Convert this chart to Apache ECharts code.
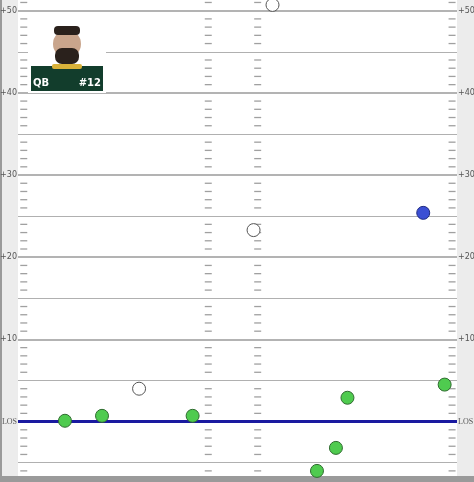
<!DOCTYPE html>
<html><head><meta charset="utf-8">
<script src="https://cdn.jsdelivr.net/npm/echarts@6/dist/echarts.min.js"></script>
<style>html,body{margin:0;padding:0;background:#fff}#c{width:474px;height:482px}</style>
</head><body><div id="c"></div>
<script>
// pass locations: [x across field (yd), yards past LOS]
const complete = [[5.7,0.1],[10.2,0.7],[21.2,0.7],[51.8,4.5],[40.0,2.9],[38.6,-3.2],[36.3,-6.0]];
const incomplete = [[14.7,4.0],[28.6,23.3],[30.9,50.7]];
const touchdown = [[49.2,25.4]];
const yardLines = [-5,5,10,15,20,25,30,35,40,45,50];
const labeledLines = [10,20,30,40,50];
const hashCols = [0.7,23.1,29.1,52.7];

const hashes = [];
for (let y=-6; y<=51; y++) { if (y%5!==0) hashCols.forEach(x=>hashes.push([x,y])); }

const ch = echarts.init(document.getElementById('c'));
const lineItems = yardLines.map(v=>({yAxis:v, lineStyle:{color: v%10===0?'#9a9a9a':'#b0b0b0', width: v%10===0?1.5:1}, label:{show: labeledLines.includes(v), formatter: '+'+v}}));
const lineItemsR = labeledLines.map(v=>({yAxis:v, label:{formatter:'+'+v}}));
const Z = {z:100, zlevel:1};
ch.setOption({
  animation:false,
  grid:{left:18,right:17,top:0,bottom:7},
  xAxis:{type:'value',min:0,max:53.3,show:false},
  yAxis:{type:'value',min:-6.5,max:51.3,show:false},
  graphic:[
    {type:'rect',z:-10,shape:{x:0,y:0,width:18,height:482},style:{fill:'#ececec'}},
    {type:'rect',z:-9,shape:{x:0,y:0,width:2,height:482},style:{fill:'#9a9a9a'}},
    {type:'rect',z:-10,shape:{x:457,y:0,width:17,height:482},style:{fill:'#ececec'}},
    {type:'rect',z:-9,shape:{x:0,y:476,width:474,height:6},style:{fill:'#9a9a9a'}},
    Object.assign({type:'rect',shape:{x:28,y:20,width:78,height:73},style:{fill:'#fff'}},Z),
    Object.assign({type:'rect',shape:{x:31,y:66,width:72,height:25},style:{fill:'#123d2c'}},Z),
    Object.assign({type:'rect',shape:{x:52,y:64,width:30,height:5,r:2},style:{fill:'#d9b23a'}},Z),
    Object.assign({type:'circle',shape:{cx:67,cy:44,r:14},style:{fill:'#c9a58c'}},Z),
    Object.assign({type:'rect',shape:{x:55,y:48,width:24,height:16,r:7},style:{fill:'#2a211c'}},Z),
    Object.assign({type:'rect',shape:{x:54,y:26,width:26,height:9,r:4},style:{fill:'#2a211c'}},Z),
    Object.assign({type:'text',style:{x:33,y:83,text:'QB',fill:'#fff',font:'bold 10px "DejaVu Sans"',verticalAlign:'middle'}},Z),
    Object.assign({type:'text',style:{x:101,y:83,text:'#12',fill:'#fff',textAlign:'right',font:'bold 10px "DejaVu Sans"',verticalAlign:'middle'}},Z)
  ],
  series:[
    {type:'scatter',silent:true,symbol:'rect',symbolSize:[7,1.3],itemStyle:{color:'#a0a0a0',opacity:1},data:hashes,z:1,
     markLine:{silent:true,symbol:'none',label:{position:'start',color:'#555',fontSize:8,fontFamily:'DejaVu Sans',distance:1},
       data:lineItems.concat([{yAxis:0,lineStyle:{color:'#1a1aa0',width:3,type:'solid'},label:{show:true,formatter:'LOS',fontFamily:'Liberation Serif',fontSize:8}}]),
       lineStyle:{type:'solid'}}},
    {type:'scatter',silent:true,symbolSize:0,data:[[0,-100]],
     markLine:{silent:true,symbol:'none',lineStyle:{color:'rgba(0,0,0,0)',width:1},label:{show:true,position:'end',color:'#555',fontSize:8,fontFamily:'DejaVu Sans',distance:1},
       data:lineItemsR.concat([{yAxis:0,label:{formatter:'LOS',fontFamily:'Liberation Serif',fontSize:8}}])}},
    {type:'scatter',z:5,symbolSize:13,data:complete,itemStyle:{color:'#4fcb4f',borderColor:'#2f6a2f',borderWidth:1,opacity:1}},
    {type:'scatter',z:5,symbolSize:13,data:incomplete,itemStyle:{color:'#fff',borderColor:'#555',borderWidth:1,opacity:1}},
    {type:'scatter',z:5,symbolSize:13,data:touchdown,itemStyle:{color:'#3b4fd4',borderColor:'#1f2a80',borderWidth:1,opacity:1}}
  ]
});
</script></body></html>
